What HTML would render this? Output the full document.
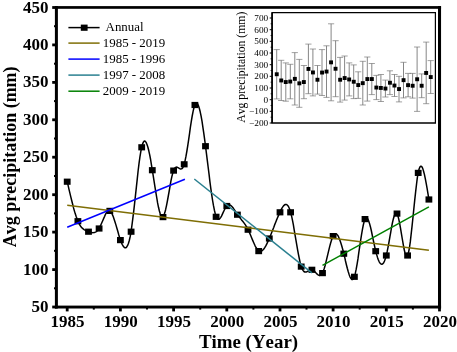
<!DOCTYPE html>
<html><head><meta charset="utf-8"><title>Avg precipitation</title>
<style>
html,body{margin:0;padding:0;background:#fff;}
svg{display:block;}
text{font-family:"Liberation Serif",serif;fill:#000;font-kerning:none;}
.b{font-weight:bold;}
</style></head><body>
<svg width="457" height="352" viewBox="0 0 457 352">
<rect width="457" height="352" fill="#fff"/>

<polyline points="67.2,181.5 68.1,185.4 69.0,189.3 69.9,193.1 70.8,196.9 71.7,200.5 72.6,204.0 73.4,207.4 74.3,210.6 75.2,213.6 76.1,216.3 77.0,218.8 77.9,221.0 78.8,223.0 79.6,224.6 80.5,226.0 81.4,227.2 82.3,228.1 83.2,228.9 84.1,229.6 85.0,230.1 85.8,230.5 86.7,230.9 87.6,231.2 88.5,231.5 89.4,231.8 90.3,232.1 91.2,232.4 92.1,232.6 92.9,232.7 93.8,232.6 94.7,232.4 95.6,232.1 96.5,231.5 97.4,230.7 98.3,229.6 99.1,228.3 100.0,226.7 100.9,224.8 101.8,222.8 102.7,220.7 103.6,218.6 104.5,216.6 105.3,214.7 106.2,213.1 107.1,211.8 108.0,211.0 108.9,210.6 109.8,210.7 110.7,211.5 111.6,212.8 112.4,214.6 113.3,216.8 114.2,219.4 115.1,222.2 116.0,225.1 116.9,228.2 117.8,231.3 118.6,234.3 119.5,237.2 120.4,239.9 121.3,242.3 122.2,244.4 123.1,246.0 124.0,247.1 124.8,247.8 125.7,247.8 126.6,247.1 127.5,245.7 128.4,243.5 129.3,240.5 130.2,236.5 131.1,231.5 131.9,225.6 132.8,218.7 133.7,211.3 134.6,203.3 135.5,195.1 136.4,186.9 137.3,178.7 138.1,171.0 139.0,163.7 139.9,157.2 140.8,151.6 141.7,147.1 142.6,143.9 143.5,141.9 144.3,141.0 145.2,141.2 146.1,142.4 147.0,144.5 147.9,147.3 148.8,150.8 149.7,154.9 150.6,159.5 151.4,164.6 152.3,170.0 153.2,175.6 154.1,181.3 155.0,187.1 155.9,192.6 156.8,198.0 157.6,202.9 158.5,207.3 159.4,211.0 160.3,214.0 161.2,216.0 162.1,217.1 163.0,216.9 163.8,215.5 164.7,213.1 165.6,209.7 166.5,205.6 167.4,201.0 168.3,196.0 169.2,191.0 170.1,185.9 170.9,181.2 171.8,176.9 172.7,173.2 173.6,170.4 174.5,168.5 175.4,167.4 176.3,167.1 177.1,167.2 178.0,167.6 178.9,168.2 179.8,168.7 180.7,168.9 181.6,168.8 182.5,168.1 183.3,166.6 184.2,164.1 185.1,160.6 186.0,156.2 186.9,151.0 187.8,145.3 188.7,139.3 189.6,133.2 190.4,127.1 191.3,121.3 192.2,116.0 193.1,111.3 194.0,107.5 194.9,104.8 195.8,103.3 196.6,102.9 197.5,103.7 198.4,105.5 199.3,108.2 200.2,111.8 201.1,116.1 202.0,121.1 202.8,126.6 203.7,132.7 204.6,139.2 205.5,146.0 206.4,153.1 207.3,160.3 208.2,167.5 209.1,174.7 209.9,181.7 210.8,188.4 211.7,194.7 212.6,200.5 213.5,205.7 214.4,210.2 215.3,213.9 216.1,216.6 217.0,218.4 217.9,219.2 218.8,219.3 219.7,218.7 220.6,217.6 221.5,216.1 222.3,214.4 223.2,212.4 224.1,210.5 225.0,208.7 225.9,207.1 226.8,205.8 227.7,205.1 228.6,204.7 229.4,204.8 230.3,205.2 231.2,205.8 232.1,206.7 233.0,207.8 233.9,209.1 234.8,210.4 235.6,211.8 236.5,213.2 237.4,214.5 238.3,215.8 239.2,216.9 240.1,218.0 241.0,219.1 241.8,220.2 242.7,221.2 243.6,222.4 244.5,223.6 245.4,224.9 246.3,226.3 247.2,227.8 248.0,229.5 248.9,231.4 249.8,233.4 250.7,235.5 251.6,237.7 252.5,239.9 253.4,242.0 254.3,244.0 255.1,245.8 256.0,247.5 256.9,249.0 257.8,250.1 258.7,250.9 259.6,251.4 260.5,251.4 261.3,251.2 262.2,250.6 263.1,249.8 264.0,248.7 264.9,247.4 265.8,245.9 266.7,244.2 267.5,242.4 268.4,240.4 269.3,238.3 270.2,236.2 271.1,234.0 272.0,231.8 272.9,229.5 273.8,227.2 274.6,224.9 275.5,222.7 276.4,220.4 277.3,218.3 278.2,216.1 279.1,214.1 280.0,212.1 280.8,210.3 281.7,208.6 282.6,207.1 283.5,205.9 284.4,205.0 285.3,204.5 286.2,204.4 287.0,204.8 287.9,205.7 288.8,207.2 289.7,209.3 290.6,212.1 291.5,215.7 292.4,219.8 293.3,224.4 294.1,229.4 295.0,234.6 295.9,239.9 296.8,245.2 297.7,250.3 298.6,255.1 299.5,259.5 300.3,263.3 301.2,266.4 302.1,268.8 303.0,270.4 303.9,271.5 304.8,272.0 305.7,272.1 306.5,271.9 307.4,271.5 308.3,270.9 309.2,270.4 310.1,269.9 311.0,269.6 311.9,269.6 312.8,269.9 313.6,270.5 314.5,271.3 315.4,272.2 316.3,273.2 317.2,274.1 318.1,274.8 319.0,275.3 319.8,275.4 320.7,275.1 321.6,274.3 322.5,272.9 323.4,270.9 324.3,268.3 325.2,265.2 326.0,261.8 326.9,258.1 327.8,254.3 328.7,250.6 329.6,246.9 330.5,243.5 331.4,240.5 332.3,237.9 333.1,235.9 334.0,234.5 334.9,233.8 335.8,233.7 336.7,234.2 337.6,235.2 338.5,236.7 339.3,238.7 340.2,241.0 341.1,243.7 342.0,246.7 342.9,250.0 343.8,253.5 344.7,257.2 345.5,261.0 346.4,264.7 347.3,268.3 348.2,271.5 349.1,274.4 350.0,276.8 350.9,278.5 351.8,279.4 352.6,279.5 353.5,278.6 354.4,276.6 355.3,273.4 356.2,269.2 357.1,264.2 358.0,258.7 358.8,252.7 359.7,246.6 360.6,240.6 361.5,234.8 362.4,229.6 363.3,225.0 364.2,221.4 365.0,218.9 365.9,217.7 366.8,217.7 367.7,218.7 368.6,220.7 369.5,223.4 370.4,226.7 371.3,230.5 372.1,234.5 373.0,238.8 373.9,243.0 374.8,247.2 375.7,251.0 376.6,254.4 377.5,257.4 378.3,259.8 379.2,261.8 380.1,263.2 381.0,264.0 381.9,264.2 382.8,263.8 383.7,262.8 384.5,261.0 385.4,258.5 386.3,255.3 387.2,251.4 388.1,246.9 389.0,242.0 389.9,236.9 390.8,231.8 391.6,227.0 392.5,222.5 393.4,218.7 394.3,215.7 395.2,213.7 396.1,212.8 397.0,213.4 397.8,215.5 398.7,218.9 399.6,223.2 400.5,228.2 401.4,233.6 402.3,239.0 403.2,244.2 404.0,248.8 404.9,252.5 405.8,255.1 406.7,256.1 407.6,255.3 408.5,252.6 409.4,248.0 410.3,241.9 411.1,234.7 412.0,226.6 412.9,218.0 413.8,209.2 414.7,200.4 415.6,192.1 416.5,184.5 417.3,177.9 418.2,172.7 419.1,169.0 420.0,166.9 420.9,166.2 421.8,166.7 422.7,168.4 423.5,171.0 424.4,174.4 425.3,178.6 426.2,183.3 427.1,188.4 428.0,193.8 428.9,199.3" fill="none" stroke="#000" stroke-width="1.5" stroke-linejoin="round"/>
<rect x="63.8" y="178.6" width="6.8" height="6.2" fill="#000"/>
<rect x="74.5" y="218.1" width="6.8" height="6.2" fill="#000"/>
<rect x="85.1" y="228.6" width="6.8" height="6.2" fill="#000"/>
<rect x="95.7" y="225.4" width="6.8" height="6.2" fill="#000"/>
<rect x="106.4" y="207.8" width="6.8" height="6.2" fill="#000"/>
<rect x="117.0" y="237.0" width="6.8" height="6.2" fill="#000"/>
<rect x="127.7" y="228.6" width="6.8" height="6.2" fill="#000"/>
<rect x="138.3" y="144.2" width="6.8" height="6.2" fill="#000"/>
<rect x="148.9" y="167.1" width="6.8" height="6.2" fill="#000"/>
<rect x="159.6" y="214.0" width="6.8" height="6.2" fill="#000"/>
<rect x="170.2" y="167.5" width="6.8" height="6.2" fill="#000"/>
<rect x="180.8" y="161.2" width="6.8" height="6.2" fill="#000"/>
<rect x="191.5" y="101.9" width="6.8" height="6.2" fill="#000"/>
<rect x="202.1" y="143.1" width="6.8" height="6.2" fill="#000"/>
<rect x="212.7" y="213.7" width="6.8" height="6.2" fill="#000"/>
<rect x="223.4" y="202.9" width="6.8" height="6.2" fill="#000"/>
<rect x="234.0" y="211.6" width="6.8" height="6.2" fill="#000"/>
<rect x="244.6" y="226.6" width="6.8" height="6.2" fill="#000"/>
<rect x="255.3" y="248.0" width="6.8" height="6.2" fill="#000"/>
<rect x="265.9" y="235.4" width="6.8" height="6.2" fill="#000"/>
<rect x="276.6" y="209.2" width="6.8" height="6.2" fill="#000"/>
<rect x="287.2" y="209.2" width="6.8" height="6.2" fill="#000"/>
<rect x="297.8" y="263.5" width="6.8" height="6.2" fill="#000"/>
<rect x="308.5" y="266.7" width="6.8" height="6.2" fill="#000"/>
<rect x="319.1" y="270.0" width="6.8" height="6.2" fill="#000"/>
<rect x="329.7" y="233.0" width="6.8" height="6.2" fill="#000"/>
<rect x="340.4" y="250.6" width="6.8" height="6.2" fill="#000"/>
<rect x="351.0" y="273.7" width="6.8" height="6.2" fill="#000"/>
<rect x="361.6" y="216.0" width="6.8" height="6.2" fill="#000"/>
<rect x="372.3" y="248.1" width="6.8" height="6.2" fill="#000"/>
<rect x="382.9" y="252.4" width="6.8" height="6.2" fill="#000"/>
<rect x="393.6" y="210.5" width="6.8" height="6.2" fill="#000"/>
<rect x="404.2" y="252.4" width="6.8" height="6.2" fill="#000"/>
<rect x="414.8" y="169.8" width="6.8" height="6.2" fill="#000"/>
<rect x="425.5" y="196.4" width="6.8" height="6.2" fill="#000"/>
<line x1="67.2" y1="205.2" x2="428.9" y2="250.2" stroke="#7f6e05" stroke-width="1.5"/>
<line x1="67.2" y1="227.3" x2="184.9" y2="179.2" stroke="#0000ff" stroke-width="1.5"/>
<line x1="194.3" y1="179.0" x2="311.9" y2="272.9" stroke="#2a8090" stroke-width="1.5"/>
<line x1="322.5" y1="265.3" x2="428.9" y2="206.8" stroke="#008000" stroke-width="1.5"/>
<rect x="54.9" y="6.1" width="3.0" height="302.4" fill="#000"/>
<rect x="438.0" y="6.1" width="3.05" height="302.4" fill="#000"/>
<rect x="54.9" y="6.1" width="386.15" height="2.7" fill="#000"/>
<rect x="54.9" y="305.6" width="386.15" height="2.9" fill="#000"/>
<line x1="52.2" y1="307.0" x2="56.6" y2="307.0" stroke="#000" stroke-width="2.8"/>
<text class="b" transform="translate(48.6,312.0) scale(1.045,1)" font-size="16.3" text-anchor="end">50</text>
<line x1="52.2" y1="269.6" x2="56.6" y2="269.6" stroke="#000" stroke-width="2.8"/>
<text class="b" transform="translate(48.6,274.6) scale(1.045,1)" font-size="16.3" text-anchor="end">100</text>
<line x1="52.2" y1="232.1" x2="56.6" y2="232.1" stroke="#000" stroke-width="2.8"/>
<text class="b" transform="translate(48.6,237.1) scale(1.045,1)" font-size="16.3" text-anchor="end">150</text>
<line x1="52.2" y1="194.7" x2="56.6" y2="194.7" stroke="#000" stroke-width="2.8"/>
<text class="b" transform="translate(48.6,199.7) scale(1.045,1)" font-size="16.3" text-anchor="end">200</text>
<line x1="52.2" y1="157.2" x2="56.6" y2="157.2" stroke="#000" stroke-width="2.8"/>
<text class="b" transform="translate(48.6,162.2) scale(1.045,1)" font-size="16.3" text-anchor="end">250</text>
<line x1="52.2" y1="119.8" x2="56.6" y2="119.8" stroke="#000" stroke-width="2.8"/>
<text class="b" transform="translate(48.6,124.8) scale(1.045,1)" font-size="16.3" text-anchor="end">300</text>
<line x1="52.2" y1="82.4" x2="56.6" y2="82.4" stroke="#000" stroke-width="2.8"/>
<text class="b" transform="translate(48.6,87.4) scale(1.045,1)" font-size="16.3" text-anchor="end">350</text>
<line x1="52.2" y1="44.9" x2="56.6" y2="44.9" stroke="#000" stroke-width="2.8"/>
<text class="b" transform="translate(48.6,49.9) scale(1.045,1)" font-size="16.3" text-anchor="end">400</text>
<line x1="52.2" y1="7.5" x2="56.6" y2="7.5" stroke="#000" stroke-width="2.8"/>
<text class="b" transform="translate(48.6,12.5) scale(1.045,1)" font-size="16.3" text-anchor="end">450</text>
<line x1="54.0" y1="288.3" x2="56.6" y2="288.3" stroke="#000" stroke-width="2"/>
<line x1="54.0" y1="250.8" x2="56.6" y2="250.8" stroke="#000" stroke-width="2"/>
<line x1="54.0" y1="213.4" x2="56.6" y2="213.4" stroke="#000" stroke-width="2"/>
<line x1="54.0" y1="176.0" x2="56.6" y2="176.0" stroke="#000" stroke-width="2"/>
<line x1="54.0" y1="138.5" x2="56.6" y2="138.5" stroke="#000" stroke-width="2"/>
<line x1="54.0" y1="101.1" x2="56.6" y2="101.1" stroke="#000" stroke-width="2"/>
<line x1="54.0" y1="63.7" x2="56.6" y2="63.7" stroke="#000" stroke-width="2"/>
<line x1="54.0" y1="26.2" x2="56.6" y2="26.2" stroke="#000" stroke-width="2"/>
<line x1="67.2" y1="307.0" x2="67.2" y2="311.4" stroke="#000" stroke-width="2.8"/>
<text class="b" transform="translate(67.6,327.2) scale(1.045,1)" font-size="16.3" text-anchor="middle">1985</text>
<line x1="120.4" y1="307.0" x2="120.4" y2="311.4" stroke="#000" stroke-width="2.8"/>
<text class="b" transform="translate(120.8,327.2) scale(1.045,1)" font-size="16.3" text-anchor="middle">1990</text>
<line x1="173.6" y1="307.0" x2="173.6" y2="311.4" stroke="#000" stroke-width="2.8"/>
<text class="b" transform="translate(174.0,327.2) scale(1.045,1)" font-size="16.3" text-anchor="middle">1995</text>
<line x1="226.8" y1="307.0" x2="226.8" y2="311.4" stroke="#000" stroke-width="2.8"/>
<text class="b" transform="translate(227.2,327.2) scale(1.045,1)" font-size="16.3" text-anchor="middle">2000</text>
<line x1="280.0" y1="307.0" x2="280.0" y2="311.4" stroke="#000" stroke-width="2.8"/>
<text class="b" transform="translate(280.4,327.2) scale(1.045,1)" font-size="16.3" text-anchor="middle">2005</text>
<line x1="333.1" y1="307.0" x2="333.1" y2="311.4" stroke="#000" stroke-width="2.8"/>
<text class="b" transform="translate(333.5,327.2) scale(1.045,1)" font-size="16.3" text-anchor="middle">2010</text>
<line x1="386.3" y1="307.0" x2="386.3" y2="311.4" stroke="#000" stroke-width="2.8"/>
<text class="b" transform="translate(386.7,327.2) scale(1.045,1)" font-size="16.3" text-anchor="middle">2015</text>
<line x1="439.5" y1="307.0" x2="439.5" y2="311.4" stroke="#000" stroke-width="2.8"/>
<text class="b" transform="translate(439.9,327.2) scale(1.045,1)" font-size="16.3" text-anchor="middle">2020</text>
<line x1="93.8" y1="307.0" x2="93.8" y2="309.6" stroke="#000" stroke-width="2"/>
<line x1="147.0" y1="307.0" x2="147.0" y2="309.6" stroke="#000" stroke-width="2"/>
<line x1="200.2" y1="307.0" x2="200.2" y2="309.6" stroke="#000" stroke-width="2"/>
<line x1="253.4" y1="307.0" x2="253.4" y2="309.6" stroke="#000" stroke-width="2"/>
<line x1="306.5" y1="307.0" x2="306.5" y2="309.6" stroke="#000" stroke-width="2"/>
<line x1="359.7" y1="307.0" x2="359.7" y2="309.6" stroke="#000" stroke-width="2"/>
<line x1="412.9" y1="307.0" x2="412.9" y2="309.6" stroke="#000" stroke-width="2"/>
<text class="b" transform="translate(248.5,348.3) scale(1.045,1)" font-size="18.1" text-anchor="middle">Time (Year)</text>
<text class="b" transform="translate(15.8,156.8) scale(1.045,1) rotate(-90)" font-size="18" text-anchor="middle">Avg precipitation (mm)</text>
<line x1="68.4" y1="27.6" x2="99.6" y2="27.6" stroke="#000" stroke-width="1.5"/>
<rect x="80.8" y="24.6" width="6.8" height="6.2" fill="#000"/>
<line x1="68.4" y1="43.1" x2="99.6" y2="43.1" stroke="#7f6e05" stroke-width="1.5"/>
<line x1="68.4" y1="59.1" x2="99.6" y2="59.1" stroke="#0000ff" stroke-width="1.5"/>
<line x1="68.4" y1="75.1" x2="99.6" y2="75.1" stroke="#2a8090" stroke-width="1.5"/>
<line x1="68.4" y1="91.2" x2="99.6" y2="91.2" stroke="#008000" stroke-width="1.5"/>
<text transform="translate(105.6,31.4) scale(1.045,1)" font-size="12.35">Annual</text>
<text transform="translate(102.8,47.2) scale(1.045,1)" font-size="12.35">1985 - 2019</text>
<text transform="translate(102.8,63.2) scale(1.045,1)" font-size="12.35">1985 - 1996</text>
<text transform="translate(102.8,79.2) scale(1.045,1)" font-size="12.35">1997 - 2008</text>
<text transform="translate(102.8,95.3) scale(1.045,1)" font-size="12.35">2009 - 2019</text>
<rect x="272.1" y="12.6" width="163.29999999999995" height="110.4" fill="#fff" stroke="none"/>
<path d="M276.7 49.6V98.9" stroke="#707070" stroke-width="0.85" fill="none"/><path d="M273.6 49.6h6.2M273.6 98.9h6.2" stroke="#707070" stroke-width="0.65" fill="none"/>
<path d="M281.2 60.3V100.5" stroke="#707070" stroke-width="0.85" fill="none"/><path d="M278.1 60.3h6.2M278.1 100.5h6.2" stroke="#707070" stroke-width="0.65" fill="none"/>
<path d="M285.8 62.9V101.2" stroke="#707070" stroke-width="0.85" fill="none"/><path d="M282.7 62.9h6.2M282.7 101.2h6.2" stroke="#707070" stroke-width="0.65" fill="none"/>
<path d="M290.3 64.3V98.8" stroke="#707070" stroke-width="0.85" fill="none"/><path d="M287.2 64.3h6.2M287.2 98.8h6.2" stroke="#707070" stroke-width="0.65" fill="none"/>
<path d="M294.8 52.6V105.0" stroke="#707070" stroke-width="0.85" fill="none"/><path d="M291.7 52.6h6.2M291.7 105.0h6.2" stroke="#707070" stroke-width="0.65" fill="none"/>
<path d="M299.3 59.4V107.3" stroke="#707070" stroke-width="0.85" fill="none"/><path d="M296.2 59.4h6.2M296.2 107.3h6.2" stroke="#707070" stroke-width="0.65" fill="none"/>
<path d="M303.9 65.5V98.7" stroke="#707070" stroke-width="0.85" fill="none"/><path d="M300.8 65.5h6.2M300.8 98.7h6.2" stroke="#707070" stroke-width="0.65" fill="none"/>
<path d="M308.4 44.1V93.7" stroke="#707070" stroke-width="0.85" fill="none"/><path d="M305.3 44.1h6.2M305.3 93.7h6.2" stroke="#707070" stroke-width="0.65" fill="none"/>
<path d="M312.9 49.0V95.9" stroke="#707070" stroke-width="0.85" fill="none"/><path d="M309.8 49.0h6.2M309.8 95.9h6.2" stroke="#707070" stroke-width="0.65" fill="none"/>
<path d="M317.5 65.5V94.1" stroke="#707070" stroke-width="0.85" fill="none"/><path d="M314.4 65.5h6.2M314.4 94.1h6.2" stroke="#707070" stroke-width="0.65" fill="none"/>
<path d="M322.0 49.6V95.5" stroke="#707070" stroke-width="0.85" fill="none"/><path d="M318.9 49.6h6.2M318.9 95.5h6.2" stroke="#707070" stroke-width="0.65" fill="none"/>
<path d="M326.5 45.8V97.4" stroke="#707070" stroke-width="0.85" fill="none"/><path d="M323.4 45.8h6.2M323.4 97.4h6.2" stroke="#707070" stroke-width="0.65" fill="none"/>
<path d="M331.1 23.8V100.8" stroke="#707070" stroke-width="0.85" fill="none"/><path d="M328.0 23.8h6.2M328.0 100.8h6.2" stroke="#707070" stroke-width="0.65" fill="none"/>
<path d="M335.6 40.7V96.7" stroke="#707070" stroke-width="0.85" fill="none"/><path d="M332.5 40.7h6.2M332.5 96.7h6.2" stroke="#707070" stroke-width="0.65" fill="none"/>
<path d="M340.1 57.4V102.1" stroke="#707070" stroke-width="0.85" fill="none"/><path d="M337.0 57.4h6.2M337.0 102.1h6.2" stroke="#707070" stroke-width="0.65" fill="none"/>
<path d="M344.6 56.0V100.1" stroke="#707070" stroke-width="0.85" fill="none"/><path d="M341.5 56.0h6.2M341.5 100.1h6.2" stroke="#707070" stroke-width="0.65" fill="none"/>
<path d="M349.2 62.9V95.9" stroke="#707070" stroke-width="0.85" fill="none"/><path d="M346.1 62.9h6.2M346.1 95.9h6.2" stroke="#707070" stroke-width="0.65" fill="none"/>
<path d="M353.7 64.9V98.6" stroke="#707070" stroke-width="0.85" fill="none"/><path d="M350.6 64.9h6.2M350.6 98.6h6.2" stroke="#707070" stroke-width="0.65" fill="none"/>
<path d="M358.2 71.8V98.4" stroke="#707070" stroke-width="0.85" fill="none"/><path d="M355.1 71.8h6.2M355.1 98.4h6.2" stroke="#707070" stroke-width="0.65" fill="none"/>
<path d="M362.8 61.3V105.0" stroke="#707070" stroke-width="0.85" fill="none"/><path d="M359.7 61.3h6.2M359.7 105.0h6.2" stroke="#707070" stroke-width="0.65" fill="none"/>
<path d="M367.3 57.0V101.1" stroke="#707070" stroke-width="0.85" fill="none"/><path d="M364.2 57.0h6.2M364.2 101.1h6.2" stroke="#707070" stroke-width="0.65" fill="none"/>
<path d="M371.8 63.5V94.6" stroke="#707070" stroke-width="0.85" fill="none"/><path d="M368.7 63.5h6.2M368.7 94.6h6.2" stroke="#707070" stroke-width="0.65" fill="none"/>
<path d="M376.4 75.4V99.6" stroke="#707070" stroke-width="0.85" fill="none"/><path d="M373.3 75.4h6.2M373.3 99.6h6.2" stroke="#707070" stroke-width="0.65" fill="none"/>
<path d="M380.9 74.5V101.5" stroke="#707070" stroke-width="0.85" fill="none"/><path d="M377.8 74.5h6.2M377.8 101.5h6.2" stroke="#707070" stroke-width="0.65" fill="none"/>
<path d="M385.4 80.1V97.0" stroke="#707070" stroke-width="0.85" fill="none"/><path d="M382.3 80.1h6.2M382.3 97.0h6.2" stroke="#707070" stroke-width="0.65" fill="none"/>
<path d="M389.9 70.8V94.6" stroke="#707070" stroke-width="0.85" fill="none"/><path d="M386.8 70.8h6.2M386.8 94.6h6.2" stroke="#707070" stroke-width="0.65" fill="none"/>
<path d="M394.5 74.5V96.5" stroke="#707070" stroke-width="0.85" fill="none"/><path d="M391.4 74.5h6.2M391.4 96.5h6.2" stroke="#707070" stroke-width="0.65" fill="none"/>
<path d="M399.0 76.3V101.9" stroke="#707070" stroke-width="0.85" fill="none"/><path d="M395.9 76.3h6.2M395.9 101.9h6.2" stroke="#707070" stroke-width="0.65" fill="none"/>
<path d="M403.5 62.3V97.9" stroke="#707070" stroke-width="0.85" fill="none"/><path d="M400.4 62.3h6.2M400.4 97.9h6.2" stroke="#707070" stroke-width="0.65" fill="none"/>
<path d="M408.1 73.4V96.8" stroke="#707070" stroke-width="0.85" fill="none"/><path d="M405.0 73.4h6.2M405.0 96.8h6.2" stroke="#707070" stroke-width="0.65" fill="none"/>
<path d="M412.6 73.4V98.1" stroke="#707070" stroke-width="0.85" fill="none"/><path d="M409.5 73.4h6.2M409.5 98.1h6.2" stroke="#707070" stroke-width="0.65" fill="none"/>
<path d="M417.1 47.0V111.4" stroke="#707070" stroke-width="0.85" fill="none"/><path d="M414.0 47.0h6.2M414.0 111.4h6.2" stroke="#707070" stroke-width="0.65" fill="none"/>
<path d="M421.7 73.9V97.7" stroke="#707070" stroke-width="0.85" fill="none"/><path d="M418.6 73.9h6.2M418.6 97.7h6.2" stroke="#707070" stroke-width="0.65" fill="none"/>
<path d="M426.2 42.1V103.7" stroke="#707070" stroke-width="0.85" fill="none"/><path d="M423.1 42.1h6.2M423.1 103.7h6.2" stroke="#707070" stroke-width="0.65" fill="none"/>
<path d="M430.7 60.6V93.5" stroke="#707070" stroke-width="0.85" fill="none"/><path d="M427.6 60.6h6.2M427.6 93.5h6.2" stroke="#707070" stroke-width="0.65" fill="none"/>
<rect x="274.8" y="72.3" width="3.9" height="3.9" fill="#000"/>
<rect x="279.3" y="78.5" width="3.9" height="3.9" fill="#000"/>
<rect x="283.8" y="80.1" width="3.9" height="3.9" fill="#000"/>
<rect x="288.3" y="79.6" width="3.9" height="3.9" fill="#000"/>
<rect x="292.9" y="76.9" width="3.9" height="3.9" fill="#000"/>
<rect x="297.4" y="81.4" width="3.9" height="3.9" fill="#000"/>
<rect x="301.9" y="80.1" width="3.9" height="3.9" fill="#000"/>
<rect x="306.5" y="67.0" width="3.9" height="3.9" fill="#000"/>
<rect x="311.0" y="70.5" width="3.9" height="3.9" fill="#000"/>
<rect x="315.5" y="77.8" width="3.9" height="3.9" fill="#000"/>
<rect x="320.1" y="70.6" width="3.9" height="3.9" fill="#000"/>
<rect x="324.6" y="69.6" width="3.9" height="3.9" fill="#000"/>
<rect x="329.1" y="60.4" width="3.9" height="3.9" fill="#000"/>
<rect x="333.6" y="66.8" width="3.9" height="3.9" fill="#000"/>
<rect x="338.2" y="77.8" width="3.9" height="3.9" fill="#000"/>
<rect x="342.7" y="76.1" width="3.9" height="3.9" fill="#000"/>
<rect x="347.2" y="77.5" width="3.9" height="3.9" fill="#000"/>
<rect x="351.8" y="79.8" width="3.9" height="3.9" fill="#000"/>
<rect x="356.3" y="83.1" width="3.9" height="3.9" fill="#000"/>
<rect x="360.8" y="81.2" width="3.9" height="3.9" fill="#000"/>
<rect x="365.4" y="77.1" width="3.9" height="3.9" fill="#000"/>
<rect x="369.9" y="77.1" width="3.9" height="3.9" fill="#000"/>
<rect x="374.4" y="85.6" width="3.9" height="3.9" fill="#000"/>
<rect x="378.9" y="86.0" width="3.9" height="3.9" fill="#000"/>
<rect x="383.5" y="86.6" width="3.9" height="3.9" fill="#000"/>
<rect x="388.0" y="80.8" width="3.9" height="3.9" fill="#000"/>
<rect x="392.5" y="83.6" width="3.9" height="3.9" fill="#000"/>
<rect x="397.1" y="87.1" width="3.9" height="3.9" fill="#000"/>
<rect x="401.6" y="78.2" width="3.9" height="3.9" fill="#000"/>
<rect x="406.1" y="83.2" width="3.9" height="3.9" fill="#000"/>
<rect x="410.7" y="83.8" width="3.9" height="3.9" fill="#000"/>
<rect x="415.2" y="77.3" width="3.9" height="3.9" fill="#000"/>
<rect x="419.7" y="83.8" width="3.9" height="3.9" fill="#000"/>
<rect x="424.2" y="71.0" width="3.9" height="3.9" fill="#000"/>
<rect x="428.8" y="75.1" width="3.9" height="3.9" fill="#000"/>
<path d="M272.1 123.0V12.6H435.4V123.0" fill="none" stroke="#000" stroke-width="1.2"/>
<line x1="271.5" y1="123.0" x2="436.0" y2="123.0" stroke="#000" stroke-width="1.7"/>
<line x1="272.1" y1="12.6" x2="272.1" y2="123.0" stroke="#000" stroke-width="1.6"/>
<line x1="269.70000000000005" y1="123.0" x2="272.1" y2="123.0" stroke="#000" stroke-width="1"/>
<text transform="translate(268.2,126.0) scale(1.045,1)" font-size="8.9" text-anchor="end">−200</text>
<line x1="269.70000000000005" y1="111.3" x2="272.1" y2="111.3" stroke="#000" stroke-width="1"/>
<text transform="translate(268.2,114.3) scale(1.045,1)" font-size="8.9" text-anchor="end">−100</text>
<line x1="269.70000000000005" y1="99.7" x2="272.1" y2="99.7" stroke="#000" stroke-width="1"/>
<text transform="translate(268.2,102.7) scale(1.045,1)" font-size="8.9" text-anchor="end">0</text>
<line x1="269.70000000000005" y1="88.0" x2="272.1" y2="88.0" stroke="#000" stroke-width="1"/>
<text transform="translate(268.2,91.0) scale(1.045,1)" font-size="8.9" text-anchor="end">100</text>
<line x1="269.70000000000005" y1="76.3" x2="272.1" y2="76.3" stroke="#000" stroke-width="1"/>
<text transform="translate(268.2,79.3) scale(1.045,1)" font-size="8.9" text-anchor="end">200</text>
<line x1="269.70000000000005" y1="64.7" x2="272.1" y2="64.7" stroke="#000" stroke-width="1"/>
<text transform="translate(268.2,67.7) scale(1.045,1)" font-size="8.9" text-anchor="end">300</text>
<line x1="269.70000000000005" y1="53.0" x2="272.1" y2="53.0" stroke="#000" stroke-width="1"/>
<text transform="translate(268.2,56.0) scale(1.045,1)" font-size="8.9" text-anchor="end">400</text>
<line x1="269.70000000000005" y1="41.3" x2="272.1" y2="41.3" stroke="#000" stroke-width="1"/>
<text transform="translate(268.2,44.3) scale(1.045,1)" font-size="8.9" text-anchor="end">500</text>
<line x1="269.70000000000005" y1="29.7" x2="272.1" y2="29.7" stroke="#000" stroke-width="1"/>
<text transform="translate(268.2,32.7) scale(1.045,1)" font-size="8.9" text-anchor="end">600</text>
<line x1="269.70000000000005" y1="18.0" x2="272.1" y2="18.0" stroke="#000" stroke-width="1"/>
<text transform="translate(268.2,21.0) scale(1.045,1)" font-size="8.9" text-anchor="end">700</text>
<line x1="270.6" y1="117.2" x2="272.1" y2="117.2" stroke="#000" stroke-width="0.8"/>
<line x1="270.6" y1="105.5" x2="272.1" y2="105.5" stroke="#000" stroke-width="0.8"/>
<line x1="270.6" y1="93.8" x2="272.1" y2="93.8" stroke="#000" stroke-width="0.8"/>
<line x1="270.6" y1="82.2" x2="272.1" y2="82.2" stroke="#000" stroke-width="0.8"/>
<line x1="270.6" y1="70.5" x2="272.1" y2="70.5" stroke="#000" stroke-width="0.8"/>
<line x1="270.6" y1="58.8" x2="272.1" y2="58.8" stroke="#000" stroke-width="0.8"/>
<line x1="270.6" y1="47.2" x2="272.1" y2="47.2" stroke="#000" stroke-width="0.8"/>
<line x1="270.6" y1="35.5" x2="272.1" y2="35.5" stroke="#000" stroke-width="0.8"/>
<line x1="270.6" y1="23.8" x2="272.1" y2="23.8" stroke="#000" stroke-width="0.8"/>
<text transform="translate(244.6,67.2) scale(1.045,1) rotate(-90)" font-size="11.7" text-anchor="middle">Avg precipitation (mm)</text>
</svg></body></html>
